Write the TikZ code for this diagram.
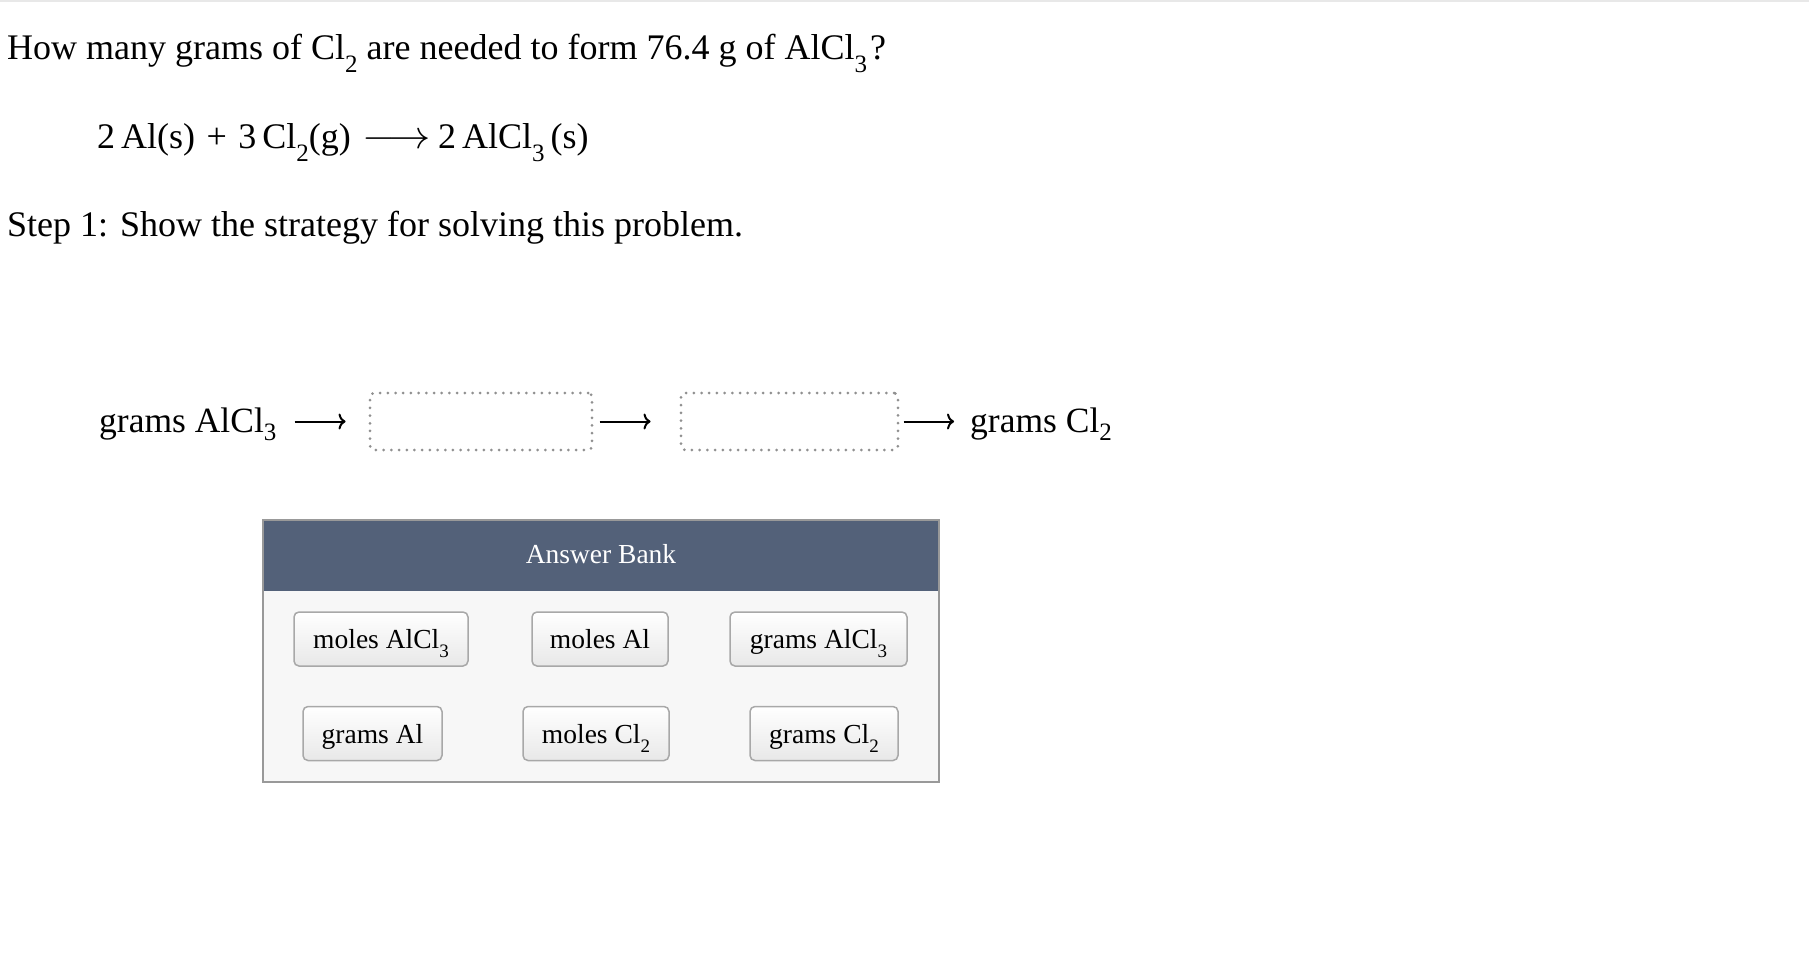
\RequirePackage{fix-cm}
\documentclass[tikz,border=0pt]{standalone}
\usepackage{fontspec}
\setmainfont{Liberation Serif}
\usetikzlibrary{arrows.meta}
\definecolor{hdr}{HTML}{536179}
\definecolor{bodybg}{HTML}{F7F7F7}
\definecolor{bordergray}{HTML}{999999}
\definecolor{btnborder}{HTML}{A8A8A8}
\definecolor{dotgray}{HTML}{909090}
\newcommand{\chs}[3]{\raisebox{-#1pt}{\fontsize{#2}{#2}\selectfont #3}}
\newcommand{\longarr}{\scalebox{1.175}[1.1]{$\longrightarrow$}}
\tikzset{
  big/.style={font=\fontsize{36}{42}\selectfont, inner sep=0pt, anchor=base west},
  row/.style={font=\fontsize{35.5}{42}\selectfont, inner sep=0pt, anchor=base west},
  btn/.style={draw=btnborder, line width=1.5pt, rounded corners=5pt, top color=white, bottom color=black!9,
    font=\fontsize{27.5}{30}\selectfont, text height=19pt, text depth=0pt, inner sep=0pt, minimum height=54pt},
  slot/.style={draw=dotgray, line width=3pt, dash pattern=on 0pt off 7.7pt, line cap=round,
    rounded corners=4pt, inner sep=0pt, minimum height=57pt},
  flow/.style={line width=2pt, -{To[length=7pt,width=16pt]}},
}
\begin{document}
\begin{tikzpicture}[x=1pt,y=-1pt]
\useasboundingbox (0,0) rectangle (1809,955);
\fill[white] (0,0) rectangle (1809,955);
\fill[black!9] (0,0) rectangle (1809,2.5);

\node[big] (title) at (7,60) {How many grams of Cl\chs{13}{25}{2} are needed to form 76.4 g of AlCl\chs{13}{25}{3}\kern3pt?};
\node[big] (eq) at (97,149) {2\,Al(s)\;\kern1.5pt+\kern1.5pt\;3\,Cl\chs{13}{25}{2}(g)\kern12pt\longarr\kern7pt 2\,AlCl\chs{13}{25}{3}\,(s)};
\node[big] (step) at (7,236) {Step 1: Show the strategy for solving this problem.};

\node[row] (t1) at (99,432) {grams AlCl\chs{8}{25}{3}};
\node[slot, minimum width=222pt] (b1) at (481,421.5) {};
\node[slot, minimum width=217pt] (b2) at (789.5,421.5) {};
\node[row] (t2) at (970,432) {grams Cl\chs{8}{25}{2}};

\draw[flow, shorten <=18pt, shorten >=23pt] (t1.east |- b1.west) -- (b1.west);
\draw[flow, shorten <=6pt, shorten >=29pt] (b1.east) -- (b2.west);
\draw[flow, shorten <=4pt, shorten >=16pt] (b2.east) -- (t2.west |- b2.east);

\node[fill=bodybg, minimum width=676pt, minimum height=262pt, inner sep=0pt] (bank) at (601,651) {};
\node[fill=hdr, minimum width=676pt, minimum height=71pt, inner sep=0pt, text=white,
  font=\fontsize{27.5}{30}\selectfont, text height=16pt, text depth=0pt] (hdr) at (601,555.5) {Answer Bank};
\draw[bordergray, line width=2pt] (bank.north west) rectangle (bank.south east);

\node[btn, minimum width=174pt] (m1) at (381,639) {moles AlCl\chs{9}{19}{3}};
\node[btn, minimum width=136pt] (m2) at (600,639) {moles Al};
\node[btn, minimum width=177pt] (m3) at (818.5,639) {grams AlCl\chs{9}{19}{3}};
\node[btn, minimum width=139pt] (m4) at (372.5,733.5) {grams Al};
\node[btn, minimum width=146pt] (m5) at (596,733.5) {moles Cl\chs{9}{19}{2}};
\node[btn, minimum width=148pt] (m6) at (824,733.5) {grams Cl\chs{9}{19}{2}};
\end{tikzpicture}
\end{document}
